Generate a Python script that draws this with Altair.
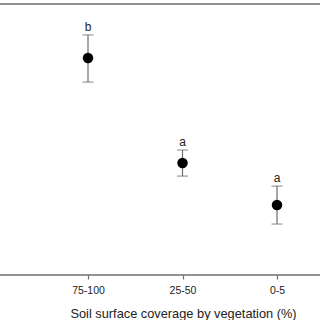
import altair as alt
import pandas as pd

categories = ["75-100", "25-50", "0-5"]
means = [80.1, 41.3, 25.8]
upper = [88.6, 46.1, 32.8]
lower = [71.2, 36.5, 18.8]
letters = ["b", "a", "a"]

df = pd.DataFrame({"cat": categories, "mean": means, "hi": upper, "lo": lower, "lab": letters})

FONT = "Liberation Sans"
GRAY = "#6e6e6e"

xenc = alt.X("cat:N", sort=categories,
             scale=alt.Scale(type="point", range=[88, 277], padding=0),
             axis=alt.Axis(title="Soil surface coverage by vegetation (%)", labelAngle=0,
                           domain=False, tickColor=GRAY, tickSize=4, tickWidth=1.2,
                           labelFont=FONT, labelFontSize=10.5, labelColor="#222",
                           labelPadding=6,
                           titleFont=FONT, titleFontSize=12.8, titleFontWeight="normal",
                           titleColor="#222", titleX=183, titleY=32, titleAlign="center"))
yscale = alt.Scale(domain=[0, 100])

base = alt.Chart(df)

bars = base.mark_rule(color=GRAY, strokeWidth=1.2).encode(
    x=xenc, y=alt.Y("lo:Q", scale=yscale, axis=None), y2="hi:Q")
caps_hi = base.mark_tick(color=GRAY, thickness=1.2, size=11, orient="horizontal").encode(
    x=xenc, y=alt.Y("hi:Q", scale=yscale, axis=None))
caps_lo = base.mark_tick(color=GRAY, thickness=1.2, size=11, orient="horizontal").encode(
    x=xenc, y=alt.Y("lo:Q", scale=yscale, axis=None))
pts = base.mark_circle(color="black", opacity=1, size=110).encode(
    x=xenc, y=alt.Y("mean:Q", scale=yscale, axis=None))
txt = base.mark_text(font=FONT, fontSize=12, color="#222222", baseline="bottom", dy=-1).encode(
    x=xenc, y=alt.Y("hi:Q", scale=yscale, axis=None), text="lab:N")
frame = pd.DataFrame({"a": [0]})
top = alt.Chart(frame).mark_rule(color=GRAY, strokeWidth=1.5).encode(
    y=alt.value(0), x=alt.value(0), x2=alt.value(320))
bottom = alt.Chart(frame).mark_rule(color=GRAY, strokeWidth=1.5).encode(
    y=alt.value(271), x=alt.value(0), x2=alt.value(320))

chart = alt.layer(top, bottom, bars, caps_hi, caps_lo, pts, txt).properties(
    width=320, height=271,
    background="white",
    autosize=alt.AutoSizeParams(type="none"),
    padding={"left": 0, "top": 4, "right": 0, "bottom": 45},
).configure_view(strokeWidth=0, stroke=None)

chart.save("out.html", embed_options={"renderer": "svg", "actions": False})
